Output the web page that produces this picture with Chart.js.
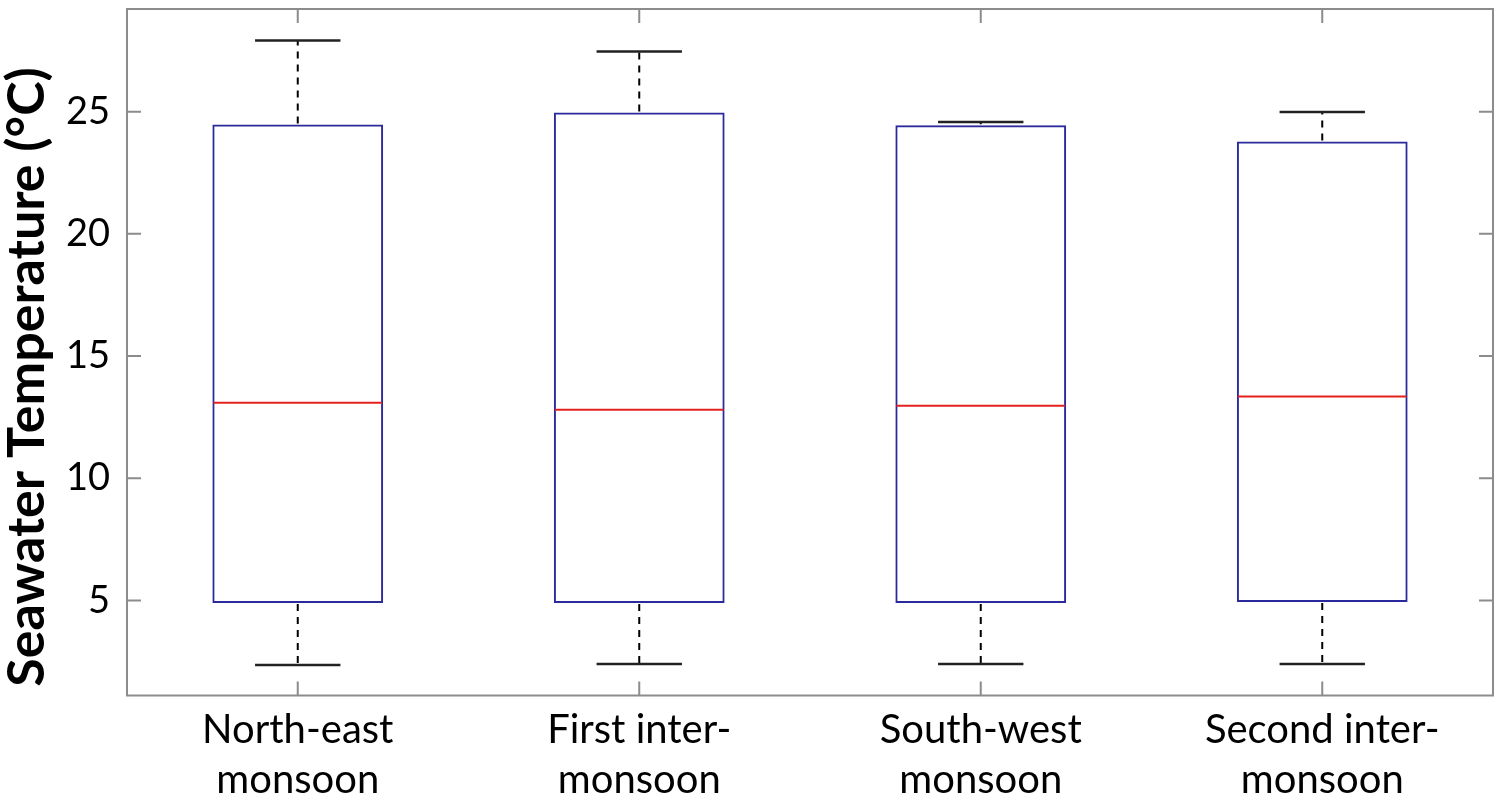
<!DOCTYPE html>
<html>
<head>
<meta charset="utf-8">
<script src="https://cdn.jsdelivr.net/npm/chart.js@4.4.1/dist/chart.umd.min.js"></script>
<style>
  html, body { margin: 0; padding: 0; background: #fff; }
  #wrap { width: 1500px; height: 808px; }
</style>
</head>
<body>
<div id="wrap"><canvas id="myChart" width="1500" height="808"></canvas></div>
<script>
'use strict';

var categories = [['North-east', 'monsoon'], ['First inter-', 'monsoon'], ['South-west', 'monsoon'], ['Second inter-', 'monsoon']];
var whiskerLow = [2.36, 2.40, 2.40, 2.40];
var quart1 = [4.90, 4.90, 4.90, 4.94];
var medians = [13.09, 12.80, 12.97, 13.34];
var quart3 = [24.47, 24.96, 24.44, 23.78];
var whiskerHigh = [27.91, 27.46, 24.58, 24.99];
var yTicks = [5, 10, 15, 20, 25];

var boxData = [];
for (var i = 0; i < categories.length; i++) {
  boxData.push([quart1[i], quart3[i]]);
}

var axisGray = '#8c8c8c';

// whiskers, medians, frame and inner ticks
var boxExtras = {
  id: 'boxExtras',
  afterDatasetsDraw: function(chart) {
    var ctx = chart.ctx;
    var x = chart.scales.x;
    var y = chart.scales.y;
    var area = chart.chartArea;
    var unit = x.getPixelForValue(1) - x.getPixelForValue(0);
    var halfBox = unit * 0.25;
    var halfCap = unit * 0.125;

    ctx.save();
    for (var i = 0; i < categories.length; i++) {
      var cx = x.getPixelForValue(i);
      var q1 = y.getPixelForValue(quart1[i]);
      var q3 = y.getPixelForValue(quart3[i]);
      var lo = y.getPixelForValue(whiskerLow[i]);
      var hi = y.getPixelForValue(whiskerHigh[i]);

      ctx.strokeStyle = '#000';
      ctx.lineWidth = 2;
      ctx.setLineDash([7, 6]);
      ctx.beginPath();
      ctx.moveTo(cx, q3 - 1); ctx.lineTo(cx, hi);
      ctx.moveTo(cx, q1 + 1); ctx.lineTo(cx, lo);
      ctx.stroke();

      ctx.setLineDash([]);
      ctx.lineWidth = 2.5;
      ctx.strokeStyle = '#222';
      ctx.beginPath();
      ctx.moveTo(cx - halfCap, hi); ctx.lineTo(cx + halfCap, hi);
      ctx.moveTo(cx - halfCap, lo); ctx.lineTo(cx + halfCap, lo);
      ctx.stroke();

      var md = y.getPixelForValue(medians[i]);
      ctx.strokeStyle = '#e3211f';
      ctx.lineWidth = 2;
      ctx.beginPath();
      ctx.moveTo(cx - halfBox + 1, md); ctx.lineTo(cx + halfBox - 1, md);
      ctx.stroke();
    }

    ctx.strokeStyle = axisGray;
    ctx.lineWidth = 2;
    ctx.strokeRect(area.left, area.top, area.right - area.left, area.bottom - area.top);

    var tl = 14;
    ctx.beginPath();
    for (var j = 0; j < yTicks.length; j++) {
      var ty = y.getPixelForValue(yTicks[j]);
      ctx.moveTo(area.left, ty); ctx.lineTo(area.left + tl, ty);
      ctx.moveTo(area.right, ty); ctx.lineTo(area.right - tl, ty);
    }
    for (var k = 0; k < categories.length; k++) {
      var tx = x.getPixelForValue(k);
      ctx.moveTo(tx, area.bottom); ctx.lineTo(tx, area.bottom - tl);
      ctx.moveTo(tx, area.top); ctx.lineTo(tx, area.top + tl);
    }
    ctx.stroke();

    // y axis title
    ctx.fillStyle = '#000';
    ctx.font = 'bold 52px Lato';
    ctx.textAlign = 'center';
    ctx.textBaseline = 'alphabetic';
    ctx.translate(44, 377);
    ctx.rotate(-Math.PI / 2);
    ctx.fillText('Seawater Temperature (\u00B0C)', 0, 0);
    ctx.restore();
  }
};

var ctx = document.getElementById('myChart');

var myChart = new Chart(ctx, {
  type: 'bar',
  data: {
    labels: categories,
    datasets: [{
      data: boxData,
      backgroundColor: 'rgba(0,0,0,0)',
      borderColor: '#2a2a9c',
      borderWidth: 2,
      borderSkipped: false,
      barPercentage: 0.5,
      categoryPercentage: 1.0
    }]
  },
  options: {
    responsive: false,
    animation: false,
    layout: { padding: { top: 9, right: 7, left: 0, bottom: 0 } },
    plugins: {
      legend: { display: false },
      tooltip: { enabled: false }
    },
    scales: {
      x: {
        grid: { display: false, drawTicks: false },
        border: { display: false },
        ticks: {
          color: '#000',
          font: { family: 'Lato', size: 40, lineHeight: 1.25 },
          padding: 10,
          maxRotation: 0
        },
        afterFit: function(scale) {
          scale.height = 112.5;
          scale.paddingLeft = 0;
          scale.paddingRight = 0;
        }
      },
      y: {
        min: 1.11,
        max: 29.2,
        grid: { display: false, drawTicks: false },
        border: { display: false },
        ticks: {
          color: '#000',
          font: { family: 'Lato', size: 38 },
          padding: 17
        },
        afterBuildTicks: function(scale) {
          scale.ticks = yTicks.map(function(v) { return { value: v }; });
        },
        afterFit: function(scale) {
          scale.width = 127;
          scale.paddingTop = 0;
          scale.paddingBottom = 0;
        }
      }
    }
  },
  plugins: [boxExtras]
});
</script>
</body>
</html>
